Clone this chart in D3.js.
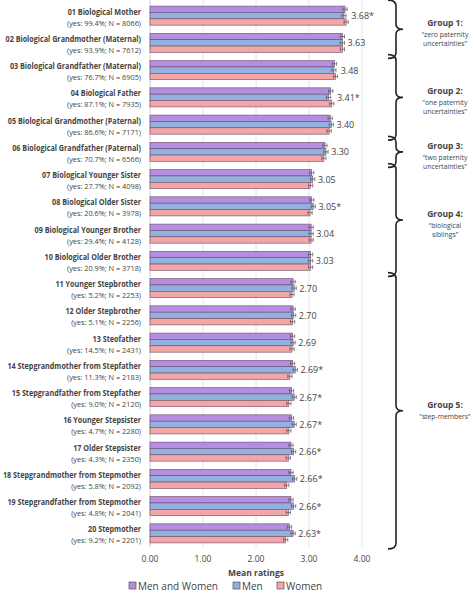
<!DOCTYPE html>
<html>
<head>
<meta charset="utf-8">
<script src="https://d3js.org/d3.v7.min.js"></script>
<style>
  body { margin: 0; background: #fff; }
  text { font-family: "Open Sans", sans-serif; fill: #444; }
</style>
</head>
<body>
<script>
const relatives = ["01 Biological Mother", "02 Biological Grandmother (Maternal)", "03 Biological Grandfather (Maternal)",
  "04 Biological Father", "05 Biological Grandmother (Paternal)", "06 Biological Grandfather (Paternal)",
  "07 Biological Younger Sister", "08 Biological Older Sister", "09 Biological Younger Brother",
  "10 Biological Older Brother", "11 Younger Stepbrother", "12 Older Stepbrother", "13 Steofather",
  "14 Stepgrandmother from Stepfather", "15 Stepgrandfather from Stepfather", "16 Younger Stepsister",
  "17 Older Stepsister", "18 Stepgrandmother from Stepmother", "19 Stepgrandfather from Stepmother", "20 Stepmother"];
const subLabels = ["(yes: 99.4%; N = 8066)", "(yes: 93.9%; N = 7612)", "(yes: 76.7%; N = 6905)", "(yes: 87.1%; N = 7935)",
  "(yes: 86.6%; N = 7171)", "(yes: 70.7%; N = 6566)", "(yes: 27.7%; N = 4098)", "(yes: 20.6%; N = 3978)",
  "(yes: 29.4%; N = 4128)", "(yes: 20.9%; N = 3718)", "(yes: 5.2%; N = 2253)", "(yes: 5.1%; N = 2256)",
  "(yes: 14.5%; N = 2431)", "(yes: 11.3%; N = 2183)", "(yes: 9.0%; N = 2120)", "(yes: 4.7%; N = 2280)",
  "(yes: 4.3%; N = 2350)", "(yes: 5.8%; N = 2092)", "(yes: 4.8%; N = 2041)", "(yes: 9.2%; N = 2201)"];
const both = [3.68, 3.63, 3.48, 3.41, 3.40, 3.30, 3.05, 3.05, 3.04, 3.03, 2.70, 2.70, 2.69, 2.69, 2.67, 2.67, 2.66, 2.66, 2.66, 2.63];
const men = [3.66, 3.63, 3.47, 3.37, 3.42, 3.32, 3.07, 3.08, 3.04, 3.03, 2.72, 2.71, 2.70, 2.74, 2.72, 2.72, 2.71, 2.73, 2.71, 2.70];
const women = [3.70, 3.63, 3.50, 3.43, 3.38, 3.28, 3.03, 3.02, 3.04, 3.03, 2.68, 2.69, 2.68, 2.64, 2.62, 2.62, 2.61, 2.58, 2.61, 2.56];
const marks = ["*", "", "", "*", "", "", "", "*", "", "", "", "", "", "*", "*", "*", "*", "*", "*", "*"];
const seriesNames = ["Men and Women", "Men", "Women"];
const seriesColors = ["#b48ee0", "#92b1de", "#f3a6a6"];
const groups = [
  { name: "Group 1:", desc: ["\u201czero paternity", "uncertainties\u201d"], from: 0, to: 1 },
  { name: "Group 2:", desc: ["\u201cone paternity", "uncertainties\u201d"], from: 2, to: 4 },
  { name: "Group 3:", desc: ["\u201ctwo paternity", "uncertainties\u201d"], from: 5, to: 5 },
  { name: "Group 4:", desc: ["\u201cbiological", "siblings\u201d"], from: 6, to: 9 },
  { name: "Group 5:", desc: ["\u201cstep-members\u201d"], from: 10, to: 19 }
];
const ticks = [0, 1, 2, 3, 4];

const W = 474, H = 594;
const svg = d3.select("body").append("svg").attr("width", W).attr("height", H);

const x = d3.scaleLinear().domain([0, 4]).range([150, 362]);
const y = d3.scaleBand().domain(d3.range(20)).range([2, 547]).paddingInner(0.3).paddingOuter(0.15);
const sub = d3.scaleBand().domain([0, 1, 2]).range([0, y.bandwidth()]);

// grid
svg.append("g").selectAll("line").data(ticks.slice(1)).join("line")
  .attr("x1", d => x(d)).attr("x2", d => x(d)).attr("y1", 0).attr("y2", 547)
  .attr("stroke", "#ddd").attr("stroke-width", 0.8);
svg.append("line").attr("x1", x(0)).attr("x2", x(0)).attr("y1", 0).attr("y2", 547).attr("stroke", "#ccc");

const series = [both, men, women];
const rows = svg.append("g").selectAll("g").data(d3.range(20)).join("g")
  .attr("transform", i => `translate(0,${y(i)})`);

series.forEach((vals, s) => {
  rows.append("rect")
    .attr("x", x(0)).attr("y", sub(s))
    .attr("width", i => x(vals[i]) - x(0)).attr("height", sub.bandwidth())
    .attr("fill", seriesColors[s]).attr("stroke", "#6a4a6a").attr("stroke-width", 0.6);
  rows.append("path")
    .attr("d", i => {
      const c = sub(s) + sub.bandwidth() / 2, a = x(vals[i] - 0.04), b = x(vals[i] + 0.04);
      return `M${a},${c}H${b}M${a},${c - 2}V${c + 2}M${b},${c - 2}V${c + 2}`;
    })
    .attr("stroke", "#555").attr("stroke-width", 0.7).attr("fill", "none");
});

rows.append("text")
  .attr("x", i => x(d3.max([both[i], men[i], women[i]]) + 0.06) + 2)
  .attr("y", y.bandwidth() / 2 + 3.5)
  .attr("font-size", 9)
  .text(i => both[i].toFixed(2) + marks[i]);

const mainLab = rows.append("text").attr("x", 141).attr("y", y.bandwidth() / 2 - 1).attr("text-anchor", "end")
  .attr("font-size", 8.6).attr("font-weight", "bold").attr("fill", "#555")
  .text(i => relatives[i]);
const subLab = rows.append("text").attr("x", 141).attr("y", y.bandwidth() / 2 + 10).attr("text-anchor", "end")
  .attr("font-size", 7.4).text(i => subLabels[i]);

// squeeze labels uniformly so the widest fits the left margin
function squeeze(sel, maxW) {
  const ws = sel.nodes().map(n => n.getComputedTextLength());
  const k = Math.min(1, maxW / d3.max(ws));
  sel.each(function(d, j) { d3.select(this).attr("textLength", ws[j] * k).attr("lengthAdjust", "spacingAndGlyphs"); });
}
squeeze(mainLab, 138);
squeeze(subLab, 74);

// axis
svg.append("g").selectAll("text").data(ticks).join("text")
  .attr("x", d => x(d)).attr("y", 562).attr("text-anchor", "middle").attr("font-size", 8.5)
  .text(d => d.toFixed(2));
svg.append("text").attr("x", 256).attr("y", 576).attr("text-anchor", "middle")
  .attr("font-size", 8.5).attr("font-weight", "bold").text("Mean  ratings");

// legend
const leg = svg.append("g").attr("transform", "translate(0,590)");
const legX = [129, 233, 277];
seriesNames.forEach((n, i) => {
  leg.append("rect").attr("x", legX[i]).attr("y", -8).attr("width", 7).attr("height", 7)
    .attr("fill", seriesColors[i]).attr("stroke", "#555").attr("stroke-width", 0.7);
  leg.append("text").attr("x", legX[i] + 9).attr("y", 0).attr("font-size", 10).text(n);
});

// braces
const bx = 388, bw = 8;
groups.forEach(g => {
  const t = y(g.from) - 6, b = y(g.to) + y.bandwidth() + 6, m = (t + b) / 2;
  svg.append("path")
    .attr("d", `M${bx},${t}Q${bx + bw},${t} ${bx + bw},${t + 6}V${m - 5}Q${bx + bw},${m} ${bx + bw + 7},${m}` +
      `Q${bx + bw},${m} ${bx + bw},${m + 5}V${b - 6}Q${bx + bw},${b} ${bx},${b}`)
    .attr("fill", "none").attr("stroke", "#222").attr("stroke-width", 1.6);
  svg.append("text").attr("x", 445).attr("y", m - 3).attr("text-anchor", "middle")
    .attr("font-size", 8.5).attr("font-weight", "bold").attr("fill", "#222").text(g.name);
  g.desc.forEach((d, k) => svg.append("text").attr("x", 445).attr("y", m + 8 + k * 9)
    .attr("text-anchor", "middle").attr("font-size", 6.8).text(d));
});
</script>
</body>
</html>
